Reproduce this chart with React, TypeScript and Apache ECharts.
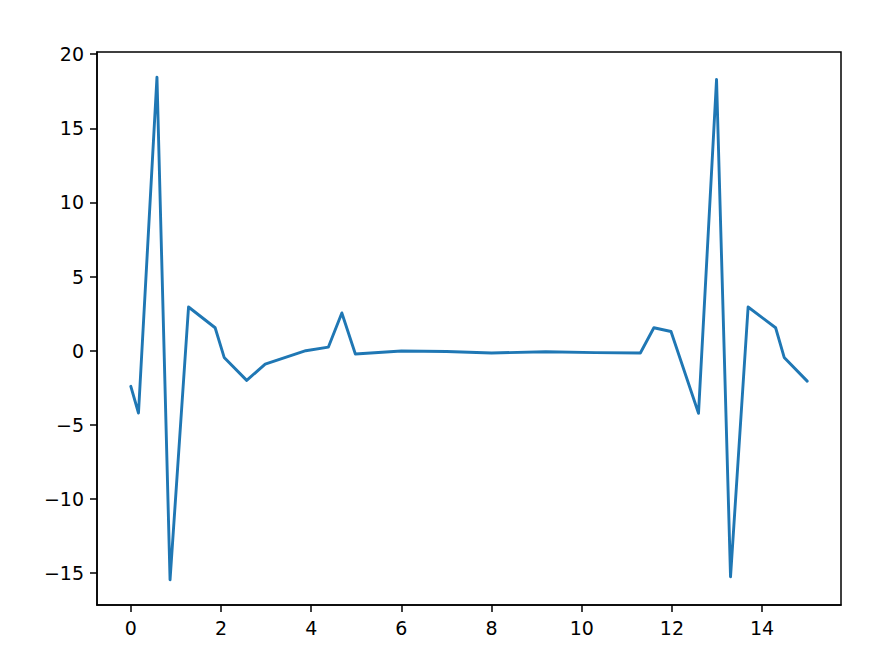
import React, { useEffect, useRef } from "react";
import * as echarts from "echarts";

const xValues = [0, 0.17, 0.58, 0.87, 1.28, 1.87, 2.07, 2.57, 2.98, 3.88, 4.38, 4.68, 4.98, 6.0, 7.0, 8.0, 9.2, 10.3, 11.3, 11.6, 11.98, 12.59, 12.99, 13.3, 13.69, 14.3, 14.49, 15.0];
const yValues = [-2.4, -4.2, 18.45, -15.45, 2.95, 1.55, -0.45, -2.0, -0.9, 0.0, 0.24, 2.55, -0.22, -0.02, -0.05, -0.15, -0.07, -0.13, -0.15, 1.55, 1.3, -4.22, 18.3, -15.25, 2.95, 1.55, -0.45, -2.05];
const xTicks = [0, 2, 4, 6, 8, 10, 12, 14];
const yTicks = [-15, -10, -5, 0, 5, 10, 15, 20];

const fmt = (v: number) => String(v).replace("-", "\u2212");

export default function App() {
  const ref = useRef<HTMLDivElement>(null);
  useEffect(() => {
    if (!ref.current) return;
    const chart = echarts.init(ref.current, null, { renderer: "svg" });
    const data = xValues.map((x, i) => [x, yValues[i]]);
    const axisCommon = {
      axisLine: { show: true, onZero: false, lineStyle: { color: "#000", width: 1.5 } },
      splitLine: { show: false },
    };
    const labelStyle = {
      color: "#000",
      fontSize: 19,
      fontFamily: "DejaVu Sans",
      margin: 13,
      formatter: (v: number) => fmt(v),
    };
    chart.setOption({
      animation: false,
      backgroundColor: "#fff",
      grid: {
        left: 97,
        top: 52,
        right: 44,
        bottom: 62,
        show: true,
        borderColor: "#000",
        borderWidth: 1.5,
        backgroundColor: "transparent",
      },
      xAxis: {
        type: "value",
        min: -0.75,
        max: 15.75,
        ...axisCommon,
        axisTick: { show: true, inside: false, length: 7, customValues: xTicks, lineStyle: { color: "#000", width: 1.5 } },
        axisLabel: { ...labelStyle, customValues: xTicks },
      },
      yAxis: {
        type: "value",
        min: -17.15,
        max: 20.15,
        ...axisCommon,
        axisTick: { show: true, inside: false, length: 7, customValues: yTicks, lineStyle: { color: "#000", width: 1.5 } },
        axisLabel: { ...labelStyle, customValues: yTicks },
      },
      series: [
        {
          type: "line",
          data,
          showSymbol: false,
          symbol: "none",
          lineStyle: { color: "#1f77b4", width: 2.9, join: "round", cap: "round" },
          emphasis: { disabled: true },
        },
      ],
    });
    return () => chart.dispose();
  }, []);
  return (
    <div
      ref={ref}
      style={{ position: "absolute", left: 0, top: 0, width: 885, height: 667 }}
    />
  );
}
